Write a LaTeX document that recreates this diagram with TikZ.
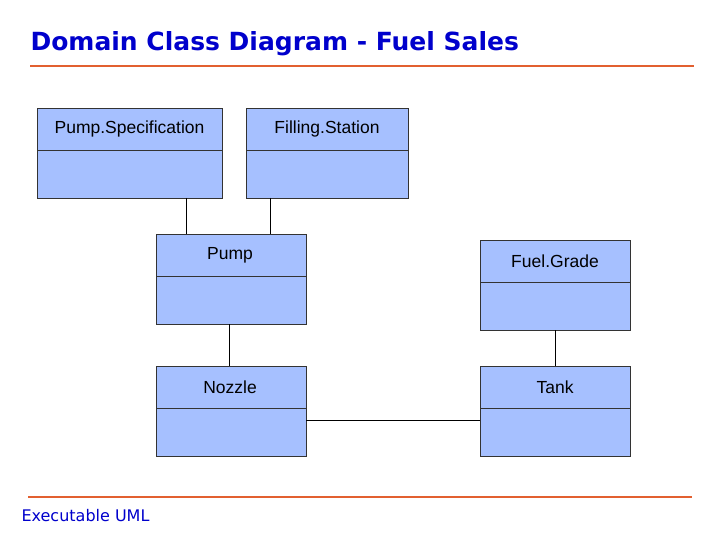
\documentclass[tikz,border=0pt]{standalone}
\usepackage{fontspec}
\setmainfont{Liberation Sans}
\newfontfamily\verd{DejaVu Sans}
\definecolor{boxfill}{RGB}{166,192,255}
\definecolor{titleblue}{RGB}{0,0,204}
\definecolor{rule}{RGB}{226,96,48}
\tikzset{cls/.style={draw=black!80,fill=boxfill,line width=0.8pt},
lbl/.style={font=\fontsize{17.5}{20}\selectfont},
conn/.style={draw=black,line width=0.7pt}}
\newcommand{\umlbox}[6]{% name,x1,y1,x2,y2,divider
\draw[cls] (#2,#3) rectangle (#4,#5);
\draw[draw=black!80,line width=0.8pt] (#2,#6) -- (#4,#6);
\coordinate (#1-top) at ({(#2+#4)/2},#3);
\coordinate (#1-bot) at ({(#2+#4)/2},#5);}
\begin{document}
\begin{tikzpicture}[x=1pt,y=-1pt]
\useasboundingbox (0,0) rectangle (720,540);
\node[anchor=west,text=titleblue,font=\verd\bfseries\fontsize{25}{28}\selectfont] (title) at (27,44) {Domain Class Diagram - Fuel Sales};
\draw[rule,line width=1.5pt] (30,66) -- (694,66);
\draw[rule,line width=1.5pt] (28,497) -- (692,497);
\node[anchor=west,text=titleblue,font=\verd\fontsize{16}{18}\selectfont] (foot) at (18,516) {Executable UML};
\umlbox{ps}{37}{108}{222}{198}{150}
\umlbox{fs}{246}{108}{408}{198}{150}
\umlbox{pump}{156}{234}{306}{324}{276}
\umlbox{fg}{480}{240}{630}{330}{282}
\umlbox{nz}{156}{366}{306}{456}{408}
\umlbox{tk}{480}{366}{630}{456}{408}
\node[lbl] (psl) at (129.5,129) {Pump.Specification};
\node[lbl] (fsl) at (327,129) {Filling.Station};
\node[lbl] (pumpl) at (230,255) {Pump};
\node[lbl] (fgl) at (555,261) {Fuel.Grade};
\node[lbl] (nzl) at (230,387) {Nozzle};
\node[lbl] (tkl) at (555,387) {Tank};
\coordinate (a1) at (186,198); \coordinate (a2) at (186,234);
\coordinate (b1) at (270,198); \coordinate (b2) at (270,234);
\coordinate (c1) at (229,324); \coordinate (c2) at (229,366);
\coordinate (d1) at (306,420); \coordinate (d2) at (480,420);
\draw[conn] (a1) -- (a2);
\draw[conn] (b1) -- (b2);
\draw[conn] (c1) -- (c2);
\draw[conn] (fg-bot) -- (tk-top);
\draw[conn] (d1) -- (d2);
\end{tikzpicture}
\end{document}
